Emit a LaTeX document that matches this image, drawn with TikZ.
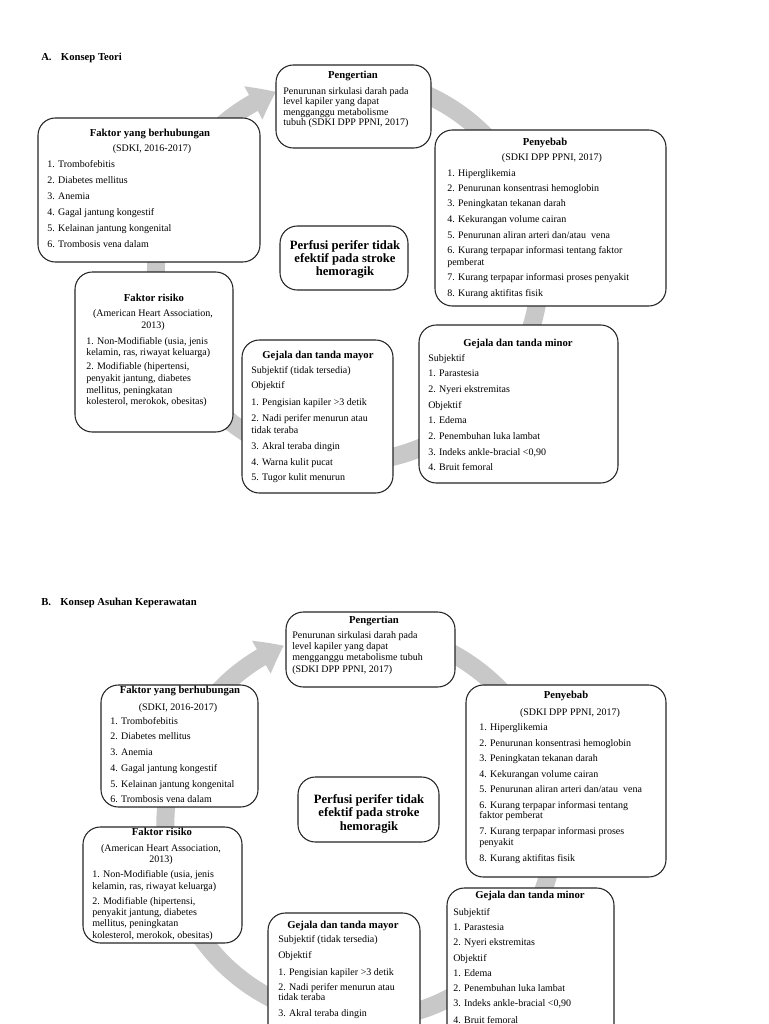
\documentclass[tikz,border=0pt]{standalone}
\usepackage{fontspec}
\setmainfont{Liberation Serif}
\usetikzlibrary{fit,arrows.meta,bending,calc}
\definecolor{ringgray}{RGB}{200,200,200}
\begin{document}
\begin{tikzpicture}[x=0.75pt,y=-0.75pt,
  box/.style={draw=black!85, line width=0.8pt, rounded corners=13pt, fill=white, inner sep=0pt},
  ln/.style={anchor=base west, inner sep=0pt, font=\fontsize{7.5}{9}\selectfont},
  ttl/.style={anchor=base, inner sep=0pt, font=\fontsize{8}{9}\selectfont\bfseries},
  ctr/.style={anchor=base, inner sep=0pt, font=\fontsize{7.5}{9}\selectfont},
  big/.style={anchor=base, inner sep=0pt, font=\fontsize{9.5}{11}\selectfont\bfseries},
  head/.style={anchor=base west, inner sep=0pt, font=\fontsize{8}{9}\selectfont\bfseries},
  ring/.style={line width=13.5pt, draw=ringgray},
  ringtip/.style={-{Triangle[width=27pt,length=19pt,bend]}}
]
\useasboundingbox (0,0) rectangle (768,1024);
\fill[white] (0,0) rectangle (768,1024);
\begin{scope}
\clip (0,0) rectangle (768,1024);

% ================= Section A =================
\node[head] (headA) at (41,61) {A.\hspace{7pt}Konsep Teori};
\coordinate (cA) at (348,270);
\draw[ring, ringtip] ($(cA)+(80:144pt)$) arc[start angle=80, end angle=-248, radius=144pt];

% Pengertian
\node[box, fit={(276,65) (431,148)}] (A-peng) {};
\node[ttl] (A-peng-t) at (353,79) {Pengertian};
\foreach \yy/\txt [count=\i] in {94/{Penurunan sirkulasi darah pada}, 104/{level kapiler yang dapat}, 115/{mengganggu metabolisme}, 125/{tubuh (SDKI DPP PPNI, 2017)}}
  \node[ln] (A-peng-\i) at (283,\yy) {\txt};

% Faktor yang berhubungan
\node[box, fit={(38,118) (260,262)}] (A-bh) {};
\node[ttl] (A-bh-t) at (150,136) {Faktor yang berhubungan};
\node[ctr] (A-bh-s) at (152,151) {(SDKI, 2016-2017)};
\foreach \yy/\txt [count=\i] in {167/{1. Trombofebitis}, 183/{2. Diabetes mellitus}, 199/{3. Anemia}, 215/{4. Gagal jantung kongestif}, 231/{5. Kelainan jantung kongenital}, 247/{6. Trombosis vena dalam}}
  \node[ln] (A-bh-\i) at (47,\yy) {\txt};

% Penyebab
\node[box, fit={(435,130) (666,306)}] (A-pen) {};
\node[ttl] (A-pen-t) at (545,145) {Penyebab};
\node[ctr] (A-pen-s) at (552,160) {(SDKI DPP PPNI, 2017)};
\foreach \yy/\txt [count=\i] in {176/{1. Hiperglikemia}, 191/{2. Penurunan konsentrasi hemoglobin}, 206/{3. Peningkatan tekanan darah}, 222/{4. Kekurangan volume cairan}, 238/{5. Penurunan aliran arteri dan/atau\ \ vena}, 253/{6. Kurang terpapar informasi tentang faktor}, 265/{pemberat}, 280/{7. Kurang terpapar informasi proses penyakit}, 296/{8. Kurang aktifitas fisik}}
  \node[ln] (A-pen-\i) at (447,\yy) {\txt};

% Central
\node[box, fit={(280,226) (408,290)}] (A-c) {};
\node[big] (A-c-1) at (345,249) {Perfusi perifer tidak};
\node[big] (A-c-2) at (345,262) {efektif pada stroke};
\node[big] (A-c-3) at (345,275) {hemoragik};

% Faktor risiko
\node[box, fit={(75,272) (233,432)}] (A-ri) {};
\node[ttl] (A-ri-t) at (154,301) {Faktor risiko};
\node[ctr] (A-ri-s1) at (153,316) {(American Heart Association,};
\node[ctr] (A-ri-s2) at (153,328) {2013)};
\foreach \yy/\txt [count=\i] in {344/{1. Non-Modifiable (usia, jenis}, 355/{kelamin, ras, riwayat keluarga)}, 369/{2. Modifiable (hipertensi,}, 381/{penyakit jantung, diabetes}, 393/{mellitus, peningkatan}, 404/{kolesterol, merokok, obesitas)}}
  \node[ln] (A-ri-\i) at (86,\yy) {\txt};

% Gejala mayor
\node[box, fit={(242,340) (393,493)}] (A-ma) {};
\node[ttl] (A-ma-t) at (318,358) {Gejala dan tanda mayor};
\foreach \yy/\txt [count=\i] in {373/{Subjektif (tidak tersedia)}, 388/{Objektif}, 405/{1. Pengisian kapiler >3 detik}, 421/{2. Nadi perifer menurun atau}, 433/{tidak teraba}, 449/{3. Akral teraba dingin}, 465/{4. Warna kulit pucat}, 480/{5. Tugor kulit menurun}}
  \node[ln] (A-ma-\i) at (251,\yy) {\txt};

% Gejala minor
\node[box, fit={(419,325) (618,483)}] (A-mi) {};
\node[ttl] (A-mi-t) at (518,346) {Gejala dan tanda minor};
\foreach \yy/\txt [count=\i] in {361/{Subjektif}, 376/{1. Parastesia}, 392/{2. Nyeri ekstremitas}, 408/{Objektif}, 423/{1. Edema}, 439/{2. Penembuhan luka lambat}, 455/{3. Indeks ankle-bracial <0,90}, 470/{4. Bruit femoral}}
  \node[ln] (A-mi-\i) at (428,\yy) {\txt};

% ================= Section B =================
\node[head] (headB) at (41,605) {B.\hspace{7pt}Konsep Asuhan Keperawatan};
\coordinate (cB) at (360,825);
\draw[ring, ringtip] ($(cB)+(80:146pt)$) arc[start angle=80, end angle=-247, radius=146pt];

% Pengertian
\node[box, fit={(286,612) (455,687)}] (B-peng) {};
\node[ttl] (B-peng-t) at (374,623) {Pengertian};
\foreach \yy/\txt [count=\i] in {638/{Penurunan sirkulasi darah pada}, 649/{level kapiler yang dapat}, 660/{mengganggu metabolisme tubuh}, 672/{(SDKI DPP PPNI, 2017)}}
  \node[ln] (B-peng-\i) at (292,\yy) {\txt};

% Faktor yang berhubungan
\node[box, fit={(101,685) (258,807)}] (B-bh) {};
\node[ttl] (B-bh-t) at (180,693) {Faktor yang berhubungan};
\node[ctr] (B-bh-s) at (178,710) {(SDKI, 2016-2017)};
\foreach \yy/\txt [count=\i] in {724/{1. Trombofebitis}, 739/{2. Diabetes mellitus}, 755/{3. Anemia}, 771/{4. Gagal jantung kongestif}, 787/{5. Kelainan jantung kongenital}, 802/{6. Trombosis vena dalam}}
  \node[ln] (B-bh-\i) at (110,\yy) {\txt};

% Penyebab
\node[box, fit={(466,685) (666,877)}] (B-pen) {};
\node[ttl] (B-pen-t) at (566,698) {Penyebab};
\node[ctr] (B-pen-s) at (570,715) {(SDKI DPP PPNI, 2017)};
\foreach \yy/\txt [count=\i] in {730/{1. Hiperglikemia}, 746/{2. Penurunan konsentrasi hemoglobin}, 761/{3. Peningkatan tekanan darah}, 777/{4. Kekurangan volume cairan}, 792/{5. Penurunan aliran arteri dan/atau\ \ vena}, 808/{6. Kurang terpapar informasi tentang}, 818/{faktor pemberat}, 834/{7. Kurang terpapar informasi proses}, 845/{penyakit}, 861/{8. Kurang aktifitas fisik}}
  \node[ln] (B-pen-\i) at (479,\yy) {\txt};

% Central
\node[box, fit={(298,777) (439,842)}] (B-c) {};
\node[big] (B-c-1) at (369,803) {Perfusi perifer tidak};
\node[big] (B-c-2) at (369,816) {efektif pada stroke};
\node[big] (B-c-3) at (369,830) {hemoragik};

% Faktor risiko
\node[box, fit={(83,827) (242,943)}] (B-ri) {};
\node[ttl] (B-ri-t) at (162,835) {Faktor risiko};
\node[ctr] (B-ri-s1) at (161,851) {(American Heart Association,};
\node[ctr] (B-ri-s2) at (161,862) {2013)};
\foreach \yy/\txt [count=\i] in {877/{1. Non-Modifiable (usia, jenis}, 889/{kelamin, ras, riwayat keluarga)}, 904/{2. Modifiable (hipertensi,}, 915/{penyakit jantung, diabetes}, 926/{mellitus, peningkatan}, 938/{kolesterol, merokok, obesitas)}}
  \node[ln] (B-ri-\i) at (92,\yy) {\txt};

% Gejala mayor
\node[box, fit={(268,913) (420,1070)}] (B-ma) {};
\node[ttl] (B-ma-t) at (343,928) {Gejala dan tanda mayor};
\foreach \yy/\txt [count=\i] in {942/{Subjektif (tidak tersedia)}, 958/{Objektif}, 975/{1. Pengisian kapiler >3 detik}, 990/{2. Nadi perifer menurun atau}, 1000/{tidak teraba}, 1016/{3. Akral teraba dingin}}
  \node[ln] (B-ma-\i) at (278,\yy) {\txt};

% Gejala minor
\node[box, fit={(447,888) (614,1070)}] (B-mi) {};
\node[ttl] (B-mi-t) at (530,898) {Gejala dan tanda minor};
\foreach \yy/\txt [count=\i] in {915/{Subjektif}, 930/{1. Parastesia}, 945/{2. Nyeri ekstremitas}, 961/{Objektif}, 976/{1. Edema}, 991/{2. Penembuhan luka lambat}, 1006/{3. Indeks ankle-bracial <0,90}, 1023/{4. Bruit femoral}}
  \node[ln] (B-mi-\i) at (453,\yy) {\txt};

\end{scope}
\end{tikzpicture}
\end{document}
